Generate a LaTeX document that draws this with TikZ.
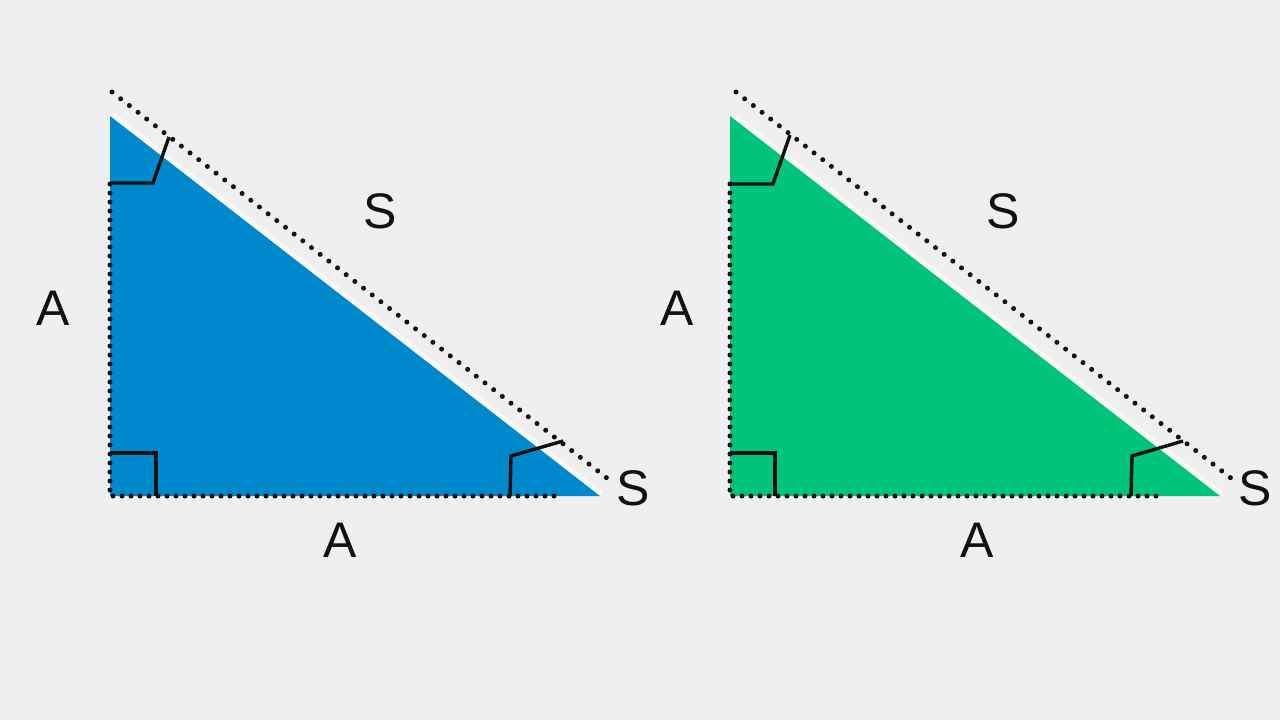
\documentclass[tikz,border=0pt]{standalone}
\usepackage{fontspec}
\setmainfont{Liberation Sans}
\usetikzlibrary{calc}
\definecolor{bg}{HTML}{EFEFEF}
\definecolor{triblue}{HTML}{0088CC}
\definecolor{trigreen}{HTML}{00C47A}
\definecolor{ink}{HTML}{111111}
\begin{document}
\begin{tikzpicture}[x=1pt,y=-1pt,
  dotline/.style={ink,line width=5pt,line cap=round,dash pattern=on 0pt off 9pt},
  hypline/.style={dotline,dash pattern=on 0pt off 11pt},
  cornermark/.style={ink,line width=3.4pt,line join=miter},
  lbl/.style={inner sep=0pt,font=\fontsize{50}{50}\selectfont,text=ink},
  glow/.style={white,line width=5pt,opacity=0.6}]
\fill[bg] (0,0) rectangle (1280,720);
\useasboundingbox (0,0) rectangle (1280,720);
% ---------- blue triangle ----------
\coordinate (bT) at (110,116);
\coordinate (bL) at (110,496);
\coordinate (bR) at (600,496);
\coordinate (bH1) at (112,92);
\coordinate (bH2) at (612,482);
\draw[glow] ($(bT)+(1.5,-2)$) -- ($(bR)+(1.5,-2)$);
\fill[triblue] (bT) -- (bL) -- (bR) -- cycle;
\draw[hypline] (bH1) -- (bH2);
\draw[dotline] (110,184) -- (bL) -- (562,496);
\draw[cornermark] (110,183) -- (153,183) -- (169,137);
\draw[cornermark] (110,453) -- (156,453) -- (156,496);
\draw[cornermark] (510,496) -- (511,456) -- (563,441);
\node[lbl] (bA1) at (53,308) {A};
\node[lbl] (bS1) at (380,211) {S};
\node[lbl] (bS2) at (633,488) {S};
\node[lbl] (bA2) at (340,540) {A};
% ---------- green triangle ----------
\coordinate (gT) at (730,116);
\coordinate (gL) at (730,496);
\coordinate (gR) at (1220,496);
\coordinate (gH1) at (736,92);
\coordinate (gH2) at (1236,482);
\draw[glow] ($(gT)+(1.5,-2)$) -- ($(gR)+(1.5,-2)$);
\fill[trigreen] (gT) -- (gL) -- (gR) -- cycle;
\draw[hypline] (gH1) -- (gH2);
\draw[dotline] (730,184) -- (gL) -- (1156,496);
\draw[cornermark] (730,184) -- (773,184) -- (790,135);
\draw[cornermark] (730,453) -- (775,453) -- (775,496);
\draw[cornermark] (1131,496) -- (1132,456) -- (1183,441);
\node[lbl] (gA1) at (677,308) {A};
\node[lbl] (gS1) at (1003,211) {S};
\node[lbl] (gS2) at (1255,488) {S};
\node[lbl] (gA2) at (977,540) {A};
\end{tikzpicture}
\end{document}
